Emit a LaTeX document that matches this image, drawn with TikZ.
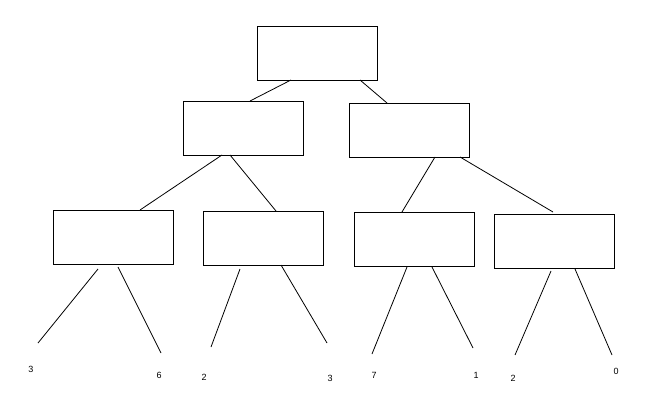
\documentclass[tikz,border=0pt]{standalone}
\usepackage{fontspec}
\setmainfont{Liberation Sans}
\begin{document}
\begin{tikzpicture}[x=1pt,y=-1pt,
  box/.style={draw,line width=0.8pt,minimum width=120pt,minimum height=54pt,inner sep=0pt},
  edge/.style={line width=0.8pt},
  lab/.style={font=\fontsize{9}{10}\selectfont,inner sep=0pt}]
\useasboundingbox (0,0) rectangle (647,414);
\node[box] (r) at (317.5,53) {};
\node[box] (a) at (243,128) {};
\node[box] (b) at (409,130) {};
\node[box] (c) at (113,237) {};
\node[box] (d) at (263,238) {};
\node[box] (e) at (414,239.5) {};
\node[box] (f) at (554,241) {};
\coordinate (r1) at (291,80); \coordinate (r2) at (360,80);
\coordinate (a0) at (250,101); \coordinate (b0) at (387,103);
\coordinate (a1) at (222,155); \coordinate (a2) at (230,155);
\coordinate (c0) at (140,210); \coordinate (d0) at (276,211);
\coordinate (b1) at (435,157); \coordinate (b2) at (460,157);
\coordinate (e0) at (402,212); \coordinate (f0) at (553,212);
\coordinate (c1) at (98,269); \coordinate (c2) at (118,267);
\coordinate (d1) at (240,269); \coordinate (d2) at (281,265);
\coordinate (e1) at (407,267); \coordinate (e2) at (432,267);
\coordinate (f1) at (551,271); \coordinate (f2) at (575,269);
\coordinate (l1) at (38,343); \coordinate (l2) at (161,353);
\coordinate (l3) at (211,347); \coordinate (l4) at (327,343);
\coordinate (l5) at (372,354); \coordinate (l6) at (473,348);
\coordinate (l7) at (515,355); \coordinate (l8) at (612,355);
\draw[edge] (r1)--(a0); \draw[edge] (r2)--(b0);
\draw[edge] (a1)--(c0); \draw[edge] (a2)--(d0);
\draw[edge] (b1)--(e0); \draw[edge] (b2)--(f0);
\draw[edge] (c1)--(l1); \draw[edge] (c2)--(l2);
\draw[edge] (d1)--(l3); \draw[edge] (d2)--(l4);
\draw[edge] (e1)--(l5); \draw[edge] (e2)--(l6);
\draw[edge] (f1)--(l7); \draw[edge] (f2)--(l8);
\node[lab] (t1) at (31,369) {3};
\node[lab] (t2) at (159,375) {6};
\node[lab] (t3) at (204,377) {2};
\node[lab] (t4) at (330,378) {3};
\node[lab] (t5) at (374,375) {7};
\node[lab] (t6) at (476,375) {1};
\node[lab] (t7) at (513,378) {2};
\node[lab] (t8) at (616,371) {0};
\end{tikzpicture}
\end{document}
